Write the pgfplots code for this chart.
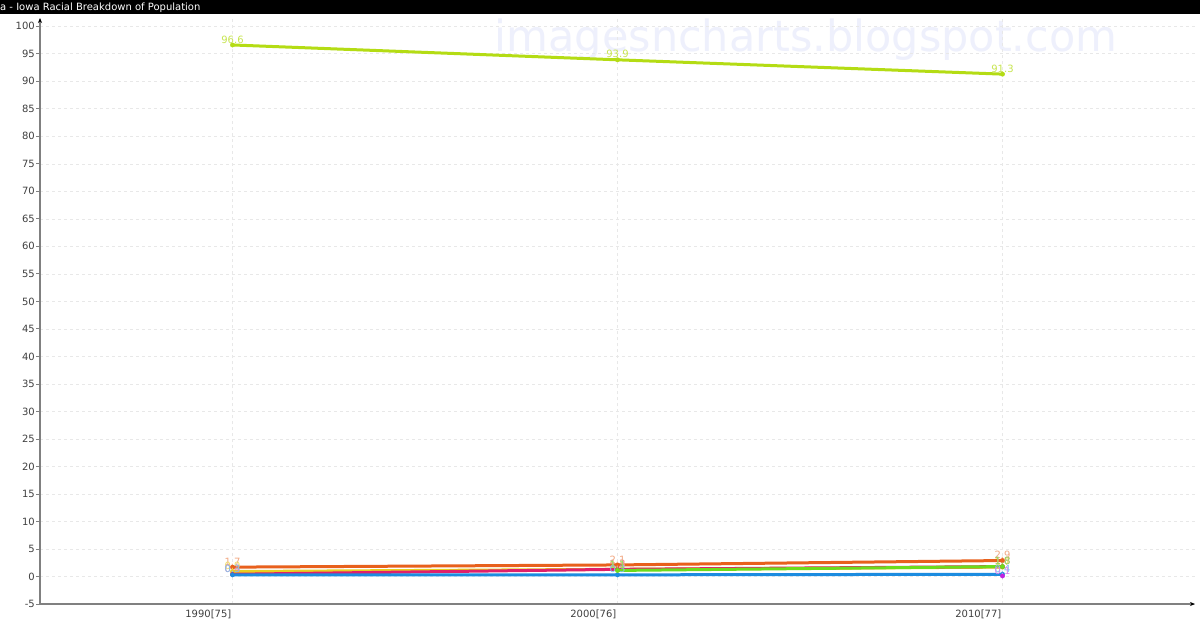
\documentclass[border=0pt]{standalone}
\usepackage{fontspec}
\setmainfont{DejaVu Sans}
\usepackage{pgfplots}
\pgfplotsset{compat=1.18}
\usetikzlibrary{arrows.meta}
\definecolor{cwhite}{HTML}{B4DC14}
\definecolor{cblack}{HTML}{E8601C}
\definecolor{casian}{HTML}{E8D020}
\definecolor{cother}{HTML}{E0206A}
\definecolor{cnative}{HTML}{1C8CE0}
\definecolor{ctwo}{HTML}{6CDC1C}
\definecolor{cpac}{HTML}{C020E0}
\definecolor{cwm}{HTML}{EEF0FC}
\begin{document}
\begin{tikzpicture}[x=1pt,y=1pt]
\useasboundingbox (0,0) rectangle (1200,630);
\fill[white] (0,0) rectangle (1200,630);
\node[font=\fontsize{43}{43}\selectfont, text=cwm, anchor=center, inner sep=0pt] at (806,590) {imagesncharts.blogspot.com};
\begin{axis}[
  at={(40pt,26pt)}, anchor=south west,
  scale only axis, width=1155pt, height=586pt,
  xmin=-0.5, xmax=2.5, ymin=-5, ymax=101.5,
  axis lines=left,
  x axis line style={draw=gray, line width=1.2pt, -{Stealth[black,length=5pt,width=4pt]}},
  y axis line style={draw=gray, line width=1.2pt, -{Stealth[black,length=5pt,width=4pt]}},
  xtick={0,1,2}, xticklabels={1990[75],2000[76],2010[77]},
  ytick={-5,0,...,100},
  /pgf/number format/assume math mode=true,
  tick label style={font=\fontsize{10}{12}\selectfont, text=black!75},
  xticklabel style={anchor=north east, inner sep=1pt, yshift=-1pt},
  yticklabel style={inner sep=1pt},
  xtick style={draw=none},
  ytick style={draw=gray, line width=0.8pt},
  tick align=outside, major tick length=4pt,
  ymajorgrids, xmajorgrids,
  grid style={draw=black!9, dash pattern=on 3pt off 3pt, line width=0.6pt},
  clip=false,
  every axis plot/.append style={line width=3pt, mark=*, mark size=2.2pt, mark options={line width=0.4pt}},
  nodes near coords,
  every node near coord/.append style={font=\fontsize{10}{12}\selectfont, anchor=south, inner sep=1.5pt},
]
\addplot[color=cwhite, every node near coord/.append style={text=cwhite!75!white}] coordinates {(0,96.6) (1,93.9) (2,91.3)};
\addplot[color=cblack, every node near coord/.append style={text=cblack!55!white}] coordinates {(0,1.7) (1,2.1) (2,2.9)};
\addplot[color=casian, every node near coord/.append style={text=casian!70!white}] coordinates {(0,0.9) (1,1.3) (2,1.7)};
\addplot[color=cother, every node near coord/.append style={text=cother!55!white}] coordinates {(0,0.4) (1,1.3) (2,1.8)};
\addplot[color=cnative, every node near coord/.append style={text=cnative!55!white}] coordinates {(0,0.3) (1,0.3) (2,0.4)};
\addplot[color=ctwo, every node near coord/.append style={text=ctwo!75!white}] coordinates {(1,1.1) (2,1.8)};
\addplot[color=cpac, every node near coord/.append style={text=cpac!55!white}] coordinates {(2,0.1)};
\end{axis}
\fill[black] (0,616) rectangle (1200,630);
\node[anchor=base west, text=white, font=\fontsize{10}{12}\selectfont, inner sep=0pt] at (0,619.5) {a - Iowa Racial Breakdown of Population};
\end{tikzpicture}
\end{document}
